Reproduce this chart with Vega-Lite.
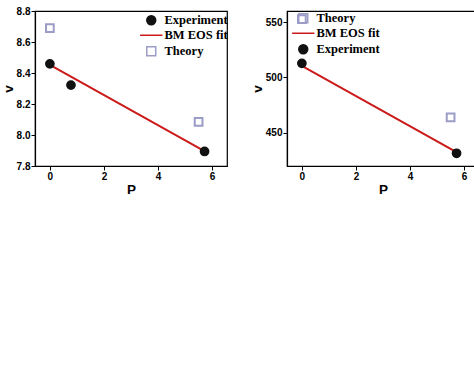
{
  "$schema": "https://vega.github.io/schema/vega-lite/v6.json",
  "background": "white",
  "padding": {"left": 0, "top": 5, "right": 2, "bottom": 0},
  "config": {
    "view": {"stroke": "black", "strokeWidth": 1.2},
    "axis": {"grid": false, "labelOverlap": false, "domainColor": "black", "domainWidth": 1.2, "tickColor": "black", "tickSize": 4, "labelColor": "black", "titleColor": "black", "labelFont": "Liberation Sans", "labelFontWeight": "bold", "labelFontSize": 10, "labelPadding": 1, "titleFont": "Liberation Sans", "titleFontWeight": "bold", "titleFontSize": 13.5, "titlePadding": 1},
    "legend": {"labelFont": "Liberation Serif", "labelFontWeight": "bold", "labelColor": "black", "labelFontSize": 12.5, "padding": 0, "rowPadding": 1, "labelOffset": 7}
  },
  "datasets": {
    "latA": [
      {"P": 0, "v": 8.459, "s": "Experiment"}, {"P": 0.78, "v": 8.322, "s": "Experiment"}, {"P": 5.72, "v": 7.894, "s": "Experiment"},
      {"P": 0, "v": 8.69, "s": "Theory"}, {"P": 5.5, "v": 8.085, "s": "Theory"},
      {"P": 0, "v": 8.452, "s": "BM EOS fit"}, {"P": 5.75, "v": 7.893, "s": "BM EOS fit"}
    ],
    "vol": [
      {"P": 0, "v": 512.7, "s": "Experiment"}, {"P": 5.72, "v": 431.5, "s": "Experiment"},
      {"P": 0, "v": 552.7, "s": "Theory"}, {"P": 5.5, "v": 463.9, "s": "Theory"},
      {"P": 0, "v": 510.5, "s": "BM EOS fit"}, {"P": 5.75, "v": 432, "s": "BM EOS fit"}
    ]
  },
  "resolve": {"scale": {"shape": "independent", "fill": "independent", "stroke": "independent", "strokeWidth": "independent"}, "legend": {"shape": "independent", "fill": "independent", "stroke": "independent", "strokeWidth": "independent"}},
  "hconcat": [
    {
      "width": 192, "height": 155,
      "data": {"name": "latA"},
      "layer": [
        {
          "transform": [{"filter": "datum.s === 'BM EOS fit'"}],
          "mark": {"type": "line", "interpolate": "monotone"},
          "encoding": {
            "x": {"field": "P", "type": "quantitative", "scale": {"domain": [-0.55, 6.55], "nice": false, "zero": false}},
            "y": {"field": "v", "type": "quantitative", "scale": {"domain": [7.8, 8.8], "nice": false, "zero": false}},
            "stroke": {"field": "s", "type": "nominal", "scale": {"domain": ["Experiment", "BM EOS fit", "Theory"], "range": ["#111111", "#cc1a1a", "#9c9cc8"]}, "legend": {"title": null, "orient": "none", "legendX": 110, "legendY": 3, "symbolSize": 80}}
          }
        },
        {
          "transform": [{"filter": "datum.s !== 'BM EOS fit'"}],
          "mark": {"type": "point", "filled": true, "size": 60, "opacity": 1},
          "encoding": {
            "x": {"field": "P", "type": "quantitative"},
            "y": {"field": "v", "type": "quantitative"},
            "shape": {"field": "s", "type": "nominal", "scale": {"domain": ["Experiment", "BM EOS fit", "Theory"], "range": ["circle", "M-2.5,0H2.5", "square"]}, "legend": {"title": null, "orient": "none", "legendX": 110, "legendY": 3, "symbolSize": 80}},
            "fill": {"field": "s", "type": "nominal", "scale": {"domain": ["Experiment", "BM EOS fit", "Theory"], "range": ["#111111", "transparent", "transparent"]}, "legend": {"title": null, "orient": "none", "legendX": 110, "legendY": 3, "symbolSize": 80}},
            "stroke": {"field": "s", "type": "nominal"}
          }
        }
      ]
    },
    {
      "width": 192, "height": 155,
      "data": {"name": "vol"},
      "layer": [
        {
          "transform": [{"filter": "datum.s === 'BM EOS fit'"}],
          "mark": {"type": "line", "interpolate": "monotone"},
          "encoding": {
            "x": {"field": "P", "type": "quantitative", "scale": {"domain": [-0.55, 6.55], "nice": false, "zero": false}},
            "y": {"field": "v", "type": "quantitative", "scale": {"domain": [420, 560], "nice": false, "zero": false}},
            "stroke": {"field": "s", "type": "nominal", "scale": {"domain": ["Theory", "BM EOS fit", "Experiment"], "range": ["#9c9cc8", "#cc1a1a", "#111111"]}, "legend": {"title": null, "orient": "none", "legendX": 10, "legendY": 1, "symbolSize": 80}}
          }
        },
        {
          "transform": [{"filter": "datum.s !== 'BM EOS fit'"}],
          "mark": {"type": "point", "filled": true, "size": 60, "opacity": 1},
          "encoding": {
            "x": {"field": "P", "type": "quantitative"},
            "y": {"field": "v", "type": "quantitative"},
            "shape": {"field": "s", "type": "nominal", "scale": {"domain": ["Theory", "BM EOS fit", "Experiment"], "range": ["square", "M-2.5,0H2.5", "circle"]}, "legend": {"title": null, "orient": "none", "legendX": 10, "legendY": 1, "symbolSize": 80}},
            "fill": {"field": "s", "type": "nominal", "scale": {"domain": ["Theory", "BM EOS fit", "Experiment"], "range": ["transparent", "transparent", "#111111"]}, "legend": {"title": null, "orient": "none", "legendX": 10, "legendY": 1, "symbolSize": 80}},
            "stroke": {"field": "s", "type": "nominal"}
          }
        }
      ]
    }
  ]
}
